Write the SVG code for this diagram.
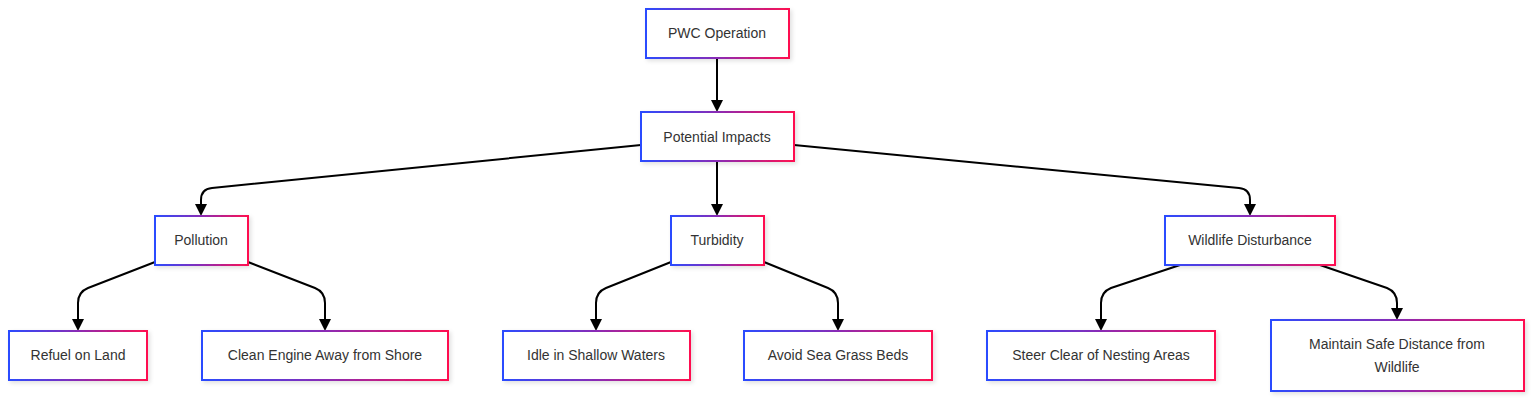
<svg xmlns="http://www.w3.org/2000/svg" width="1536" height="402" viewBox="0 0 1536 402">
<style>
.n rect{fill:#fff;stroke:url(#g);stroke-width:2;filter:url(#s)}
.n text{font-family:"Liberation Sans",Arial,sans-serif;font-size:14px;fill:#333;text-anchor:middle;dominant-baseline:central}
.e path{fill:none;stroke:#000;stroke-width:2;marker-end:url(#a)}
</style>
<defs>
<linearGradient id="g" x1="0" y1="0" x2="1" y2="0"><stop offset="0" stop-color="#2a4bff"/><stop offset="0.5" stop-color="#8a2bb5"/><stop offset="1" stop-color="#ff1050"/></linearGradient>
<filter id="s" x="-10%" y="-20%" width="120%" height="150%"><feDropShadow dx="2" dy="2" stdDeviation="2" flood-color="#000" flood-opacity="0.12"/></filter>
<marker id="a" viewBox="0 0 10 10" refX="5" refY="5" markerWidth="6" markerHeight="6" orient="auto"><path d="M0,0L10,5L0,10z" fill="#000"/></marker>
</defs>
<g class="e">
<path d="M717,58V106"/>
<path d="M641,145L212,188Q201,189 201,200V210"/>
<path d="M717,161V210"/>
<path d="M794,145L1239,188Q1250,189 1250,200V210"/>
<path d="M155,262L88,288Q78,292 78,303V325"/>
<path d="M248,262L315,288Q325,292 325,303V325"/>
<path d="M671,262L606,288Q596,292 596,303V325"/>
<path d="M764,262L828,288Q838,292 838,303V325"/>
<path d="M1180,265L1111,288Q1101,292 1101,303V325"/>
<path d="M1320,265L1387,288Q1397,292 1397,303V314"/>
</g>
<g class="n" id="pwc"><rect x="646" y="9" width="143" height="49"/><text x="717" y="33">PWC Operation</text></g>
<g class="n" id="impacts"><rect x="641" y="112" width="153" height="49"/><text x="717" y="137">Potential Impacts</text></g>
<g class="n" id="pollution"><rect x="155" y="216" width="93" height="49"/><text x="201" y="240">Pollution</text></g>
<g class="n" id="turbidity"><rect x="671" y="216" width="93" height="49"/><text x="717" y="240">Turbidity</text></g>
<g class="n" id="wildlife"><rect x="1165" y="216" width="170" height="49"/><text x="1250" y="240">Wildlife Disturbance</text></g>
<g class="n" id="refuel"><rect x="9" y="331" width="138" height="49"/><text x="78" y="355">Refuel on Land</text></g>
<g class="n" id="clean"><rect x="202" y="331" width="246" height="49"/><text x="325" y="355">Clean Engine Away from Shore</text></g>
<g class="n" id="idle"><rect x="503" y="331" width="187" height="49"/><text x="596" y="355">Idle in Shallow Waters</text></g>
<g class="n" id="avoid"><rect x="744" y="331" width="188" height="49"/><text x="838" y="355">Avoid Sea Grass Beds</text></g>
<g class="n" id="steer"><rect x="987" y="331" width="228" height="49"/><text x="1101" y="355">Steer Clear of Nesting Areas</text></g>
<g class="n" id="maintain"><rect x="1271" y="320" width="253" height="71"/><text x="1397" y="344">Maintain Safe Distance from</text><text x="1397" y="367">Wildlife</text></g>
</svg>
